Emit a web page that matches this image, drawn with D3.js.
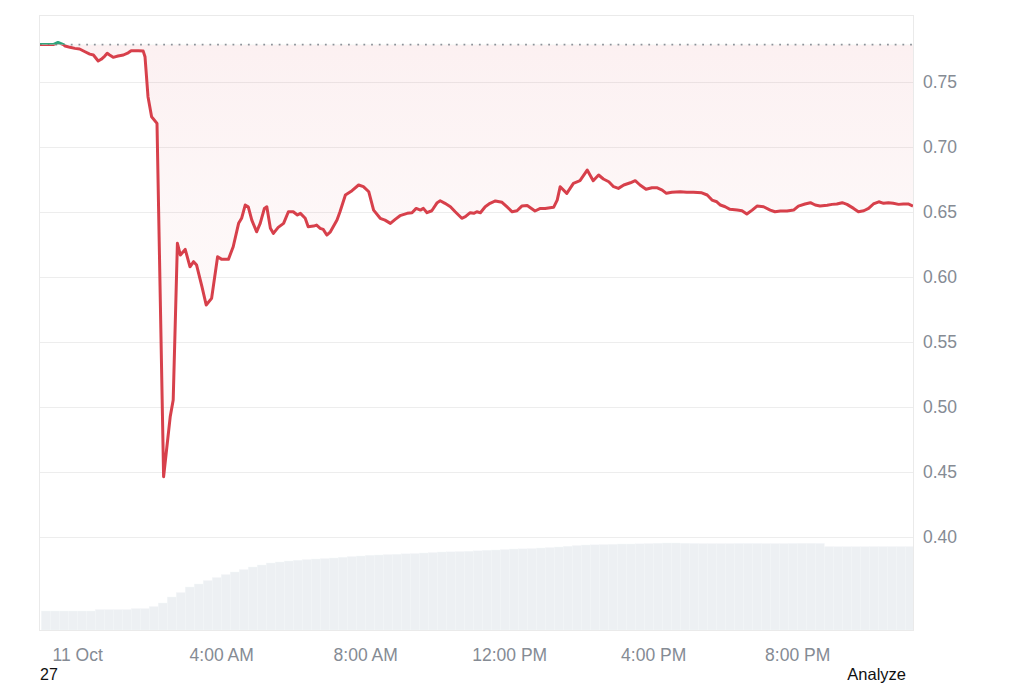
<!DOCTYPE html>
<html><head><meta charset="utf-8">
<script src="https://cdn.jsdelivr.net/npm/d3@7"></script>
<style>
html,body{margin:0;padding:0;background:#fff;overflow:hidden;}
svg{display:block;font-family:"Liberation Sans",Arial,Helvetica,sans-serif;}
</style></head><body>
<svg id="chart" width="1024" height="683"></svg>
<script>
// ---------------- DATA ----------------
const priceTimes = [
"10 22:58","10 23:20","10 23:28","10 23:37","10 23:40","10 23:48","10 23:56","11 00:04","11 00:13","11 00:21",
"11 00:27","11 00:35","11 00:40","11 00:46","11 00:50","11 00:54","11 01:00","11 01:08","11 01:17","11 01:25",
"11 01:30","11 01:42","11 01:50","11 01:53","11 01:58","11 02:04","11 02:13","11 02:24","11 02:35","11 02:40",
"11 02:47","11 02:52","11 03:00","11 03:08","11 03:14","11 03:19","11 03:28","11 03:35","11 03:44","11 03:54",
"11 04:01","11 04:12","11 04:20","11 04:29","11 04:34","11 04:40","11 04:45","11 04:51","11 04:59","11 05:05",
"11 05:12","11 05:16","11 05:22","11 05:27","11 05:35","11 05:44","11 05:52","11 06:00","11 06:07","11 06:12",
"11 06:20","11 06:25","11 06:34","11 06:39","11 06:45","11 06:50","11 06:56","11 07:02","11 07:13","11 07:18",
"11 07:27","11 07:38","11 07:49","11 07:57","11 08:06","11 08:14","11 08:25","11 08:33","11 08:42","11 08:50",
"11 08:58","11 09:10","11 09:18","11 09:25","11 09:32","11 09:37","11 09:43","11 09:51","11 10:00","11 10:05",
"11 10:13","11 10:22","11 10:30","11 10:41","11 10:47","11 10:55","11 11:01","11 11:06","11 11:12","11 11:20",
"11 11:28","11 11:37","11 11:48","11 11:56","11 12:05","11 12:13","11 12:21","11 12:30","11 12:43","11 12:52",
"11 13:00","11 13:08","11 13:14","11 13:20","11 13:25","11 13:36","11 13:47","11 13:58","11 14:10","11 14:20",
"11 14:29","11 14:37","11 14:46","11 14:54","11 15:02","11 15:11","11 15:22","11 15:30","11 15:38","11 15:48",
"11 15:58","11 16:06","11 16:15","11 16:22","11 16:31","11 16:45","11 16:56","11 17:07","11 17:21","11 17:30",
"11 17:38","11 17:46","11 17:52","11 18:00","11 18:08","11 18:20","11 18:28","11 18:36","11 18:45","11 18:53",
"11 19:04","11 19:15","11 19:23","11 19:32","11 19:43","11 19:54","11 20:02","11 20:13","11 20:22","11 20:30",
"11 20:38","11 20:50","11 20:58","11 21:06","11 21:15","11 21:23","11 21:34","11 21:42","11 21:51","11 21:59",
"11 22:07","11 22:16","11 22:24","11 22:32","11 22:40","11 22:49","11 22:57","11 23:05","11 23:13"
];
const priceValues = [
0.7788,0.7788,0.7805,0.7788,0.7777,0.7767,0.7759,0.7754,0.7733,0.7715,
0.7708,0.7662,0.7675,0.7700,0.7721,0.7708,0.7690,0.7700,0.7708,0.7725,
0.7741,0.7741,0.7738,0.7695,0.7387,0.7233,0.7182,0.4464,0.4925,0.5054,
0.6259,0.6169,0.6213,0.6079,0.6118,0.6092,0.5925,0.5785,0.5836,0.6156,
0.6136,0.6136,0.6233,0.6413,0.6452,0.6554,0.6541,0.6438,0.6348,0.6413,
0.6528,0.6541,0.6375,0.6336,0.6382,0.6413,0.6502,0.6502,0.6477,0.6490,
0.6452,0.6387,0.6392,0.6400,0.6375,0.6367,0.6323,0.6348,0.6438,0.6502,
0.6631,0.6664,0.6708,0.6695,0.6656,0.6515,0.6452,0.6438,0.6413,0.6444,
0.6472,0.6490,0.6495,0.6528,0.6515,0.6528,0.6495,0.6510,0.6572,0.6587,
0.6567,0.6541,0.6502,0.6452,0.6464,0.6495,0.6490,0.6502,0.6495,0.6541,
0.6567,0.6585,0.6575,0.6541,0.6502,0.6510,0.6546,0.6550,0.6508,0.6528,
0.6528,0.6533,0.6536,0.6592,0.6695,0.6644,0.6721,0.6741,0.6823,0.6741,
0.6785,0.6754,0.6733,0.6695,0.6682,0.6708,0.6725,0.6741,0.6708,0.6675,
0.6687,0.6687,0.6669,0.6644,0.6652,0.6656,0.6652,0.6652,0.6648,0.6631,
0.6592,0.6579,0.6554,0.6541,0.6521,0.6515,0.6510,0.6485,0.6515,0.6546,
0.6541,0.6515,0.6502,0.6508,0.6508,0.6515,0.6546,0.6562,0.6572,0.6554,
0.6546,0.6552,0.6559,0.6562,0.6572,0.6559,0.6528,0.6502,0.6510,0.6528,
0.6562,0.6579,0.6567,0.6572,0.6567,0.6559,0.6562,0.6562,0.6546
];
const openPrice = 0.7788;            // reference (dotted) price
const volStart = "10 23:00";          // first volume bar, one bar per 15 minutes
const volValues = [
19,19,19,19,19,19,20.5,20.5,20.5,20.5,
21.5,21.5,23.5,27,33,37.5,43,46,49.5,52.5,
55.5,58,60.5,63,65,67,68,69,69.8,70.5,
71,71.5,72,72.8,73.5,74,74.8,75,75.5,75.8,
76.2,76.5,77,77.5,78,78.2,78.5,78.8,79.2,79.8,
80,80.5,81,81.2,81.5,82,82.5,83,83.8,84.5,
85,85.2,85.5,85.7,86,86,86.2,86.5,86.8,87,
87,86.8,86.6,86.5,86.5,86.5,86.5,86.6,86.6,86.6,
86.5,86.5,86.5,86.6,86.7,86.7,86.6,83.5,83.4,83.4,
83.4,83.4,83.5,83.5,83.5,83.5,83.5
];
const yTicks = [0.40,0.45,0.50,0.55,0.60,0.65,0.70,0.75];
const xTickTimes = ["11 00:00","11 04:00","11 08:00","11 12:00","11 16:00","11 20:00"];
const xTickLabels = ["11 Oct","4:00 AM","8:00 AM","12:00 PM","4:00 PM","8:00 PM"];
const footerLeft = "27";
const footerRight = "Analyze";
const domainStart = "10 22:58", domainEnd = "11 23:13";

// ---------------- CHART ----------------
const parse = s => d3.timeParse("%Y-%m-%d %H:%M")("2025-10-" + s);
const P = {l:40, r:913, t:16, b:630};
const RED = "#d7404b", GREEN = "#2fa57c";

const x = d3.scaleTime().domain([parse(domainStart), parse(domainEnd)]).range([P.l, P.r]);
const y = d3.scaleLinear().domain([0.3285, 0.8008]).range([P.b, P.t]);
const yVol = d3.scaleLinear().domain([0, 100]).range([P.b, P.b - 100]);

const data = priceTimes.map((t,i) => ({t: parse(t), v: priceValues[i]}));
const v0 = parse(volStart);
const vol = volValues.map((v,i) => ({t: d3.timeMinute.offset(v0, 15*i), v}));

const svg = d3.select("#chart");
const defs = svg.append("defs");
const baseY = y(openPrice);

defs.append("clipPath").attr("id","plot").append("rect")
  .attr("x",P.l).attr("y",P.t).attr("width",P.r-P.l).attr("height",P.b-P.t);
defs.append("clipPath").attr("id","below").append("rect")
  .attr("x",P.l).attr("y",baseY).attr("width",P.r-P.l).attr("height",P.b-baseY);
defs.append("clipPath").attr("id","above").append("rect")
  .attr("x",P.l).attr("y",P.t).attr("width",P.r-P.l).attr("height",baseY-P.t);

const gRed = defs.append("linearGradient").attr("id","gRed")
  .attr("gradientUnits","userSpaceOnUse").attr("x1",0).attr("x2",0)
  .attr("y1",baseY).attr("y2",y(0.45));
gRed.append("stop").attr("offset",0).attr("stop-color",RED).attr("stop-opacity",0.075);
gRed.append("stop").attr("offset",0.4).attr("stop-color",RED).attr("stop-opacity",0.04);
gRed.append("stop").attr("offset",1).attr("stop-color",RED).attr("stop-opacity",0.02);

// gridlines
svg.append("g").selectAll("line").data(yTicks).join("line")
  .attr("x1",P.l).attr("x2",P.r)
  .attr("y1",d=>Math.round(y(d))+0.5).attr("y2",d=>Math.round(y(d))+0.5)
  .attr("stroke","#ededed").attr("stroke-width",1);

// volume bars
const bw = x(d3.timeMinute.offset(v0,15)) - x(v0);
svg.append("g").attr("clip-path","url(#plot)").selectAll("rect").data(vol).join("rect")
  .attr("x",d=>x(d.t))
  .attr("width",bw+0.2)
  .attr("y",d=>yVol(d.v))
  .attr("height",d=>P.b - yVol(d.v))
  .attr("fill","#edf0f3")
  .attr("stroke","#f6f7f9").attr("stroke-width",0.4);

// area fills
const area = d3.area().x(d=>x(d.t)).y0(baseY).y1(d=>y(d.v));
svg.append("path").datum(data).attr("d",area).attr("fill","url(#gRed)").attr("clip-path","url(#below)");
svg.append("path").datum(data).attr("d",area).attr("fill",GREEN).attr("fill-opacity",0.12).attr("clip-path","url(#above)");

// dotted reference line
svg.append("line").attr("x1",P.l).attr("x2",P.r).attr("y1",baseY).attr("y2",baseY)
  .attr("stroke","#8e939a").attr("stroke-width",1.8).attr("stroke-dasharray","1.8,5.9");

// price line
const line = d3.line().x(d=>x(d.t)).y(d=>y(d.v));
svg.append("path").datum(data).attr("d",line).attr("fill","none")
  .attr("stroke",RED).attr("stroke-width",3).attr("stroke-linejoin","round").attr("clip-path","url(#below)");
svg.append("path").datum(data).attr("d",line).attr("fill","none")
  .attr("stroke",GREEN).attr("stroke-width",3).attr("stroke-linejoin","round").attr("clip-path","url(#above)");

// frame
svg.append("rect").attr("x",P.l-0.5).attr("y",P.t-0.5).attr("width",P.r-P.l+1).attr("height",P.b-P.t+1)
  .attr("fill","none").attr("stroke","#eaeaea").attr("stroke-width",1);

// y axis (right)
const yAxis = d3.axisRight(y).tickValues(yTicks).tickFormat(d3.format(".2f")).tickSize(0).tickPadding(10);
const ga = svg.append("g").attr("transform",`translate(${P.r},0)`).call(yAxis);
ga.select(".domain").remove();
ga.selectAll("text").attr("font-size","17.5px").attr("fill","#858b94")
  .attr("font-family",'"Liberation Sans",Arial,sans-serif');

// x axis
const xt = xTickTimes.map(parse);
const xAxis = d3.axisBottom(x).tickValues(xt).tickFormat((d,i)=>xTickLabels[i]).tickSize(0).tickPadding(0);
const gx = svg.append("g").attr("transform",`translate(0,${P.b})`).call(xAxis);
gx.select(".domain").remove();
gx.selectAll("text").attr("font-size","17.5px").attr("fill","#858b94")
  .attr("dy",null).attr("y",31)
  .attr("font-family",'"Liberation Sans",Arial,sans-serif');

// page text below the chart
svg.append("text").attr("x",40).attr("y",679.6).attr("font-size","16px").attr("fill","#111").text(footerLeft);
svg.append("text").attr("x",906).attr("y",679.6).attr("text-anchor","end").attr("font-size","16.5px").attr("fill","#111").text(footerRight);
</script>
</body></html>
